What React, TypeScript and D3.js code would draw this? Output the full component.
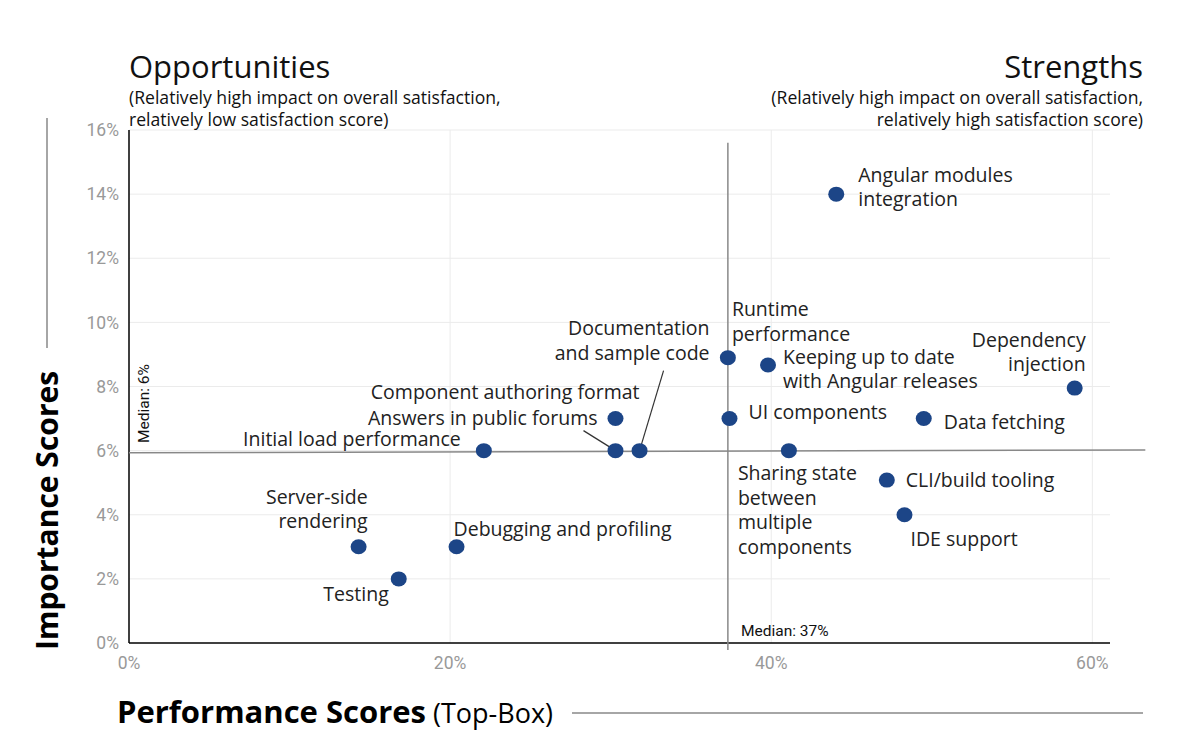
import * as d3 from "d3";
import React from "react";

// topics, with performance (top-box %) and importance (%)
const topics = [
  "Angular modules integration",
  "Runtime performance",
  "Keeping up to date with Angular releases",
  "Dependency injection",
  "Data fetching",
  "UI components",
  "Component authoring format",
  "Answers in public forums",
  "Documentation and sample code",
  "Initial load performance",
  "Sharing state between multiple components",
  "CLI/build tooling",
  "IDE support",
  "Server-side rendering",
  "Debugging and profiling",
  "Testing",
];
const performance = [44.05, 37.3, 39.8, 58.9, 49.5, 37.4, 30.3, 30.3, 31.8, 22.1, 41.1, 47.2, 48.3, 14.3, 20.4, 16.8];
const importance = [14, 8.9, 8.67, 7.95, 7, 7, 7, 6, 6, 6, 6, 5.08, 4, 3, 3, 2];

const xTicks = [0, 20, 40, 60];
const yTicks = [0, 2, 4, 6, 8, 10, 12, 14, 16];
const medianPerformance = 37.3;
const medianImportance = 5.93;

// label placement (offsets from the point, in px)
type Lbl = { lines: string[]; dx: number; dy: number; anchor: string; leader?: [number, number] };
const labels: Lbl[] = [
  { lines: ["Angular modules", "integration"], dx: 22, dy: -19, anchor: "start" },
  { lines: ["Runtime", "performance"], dx: 4, dy: -48, anchor: "start" },
  { lines: ["Keeping up to date", "with Angular releases"], dx: 15, dy: -8, anchor: "start" },
  { lines: ["Dependency", "injection"], dx: 11, dy: -48, anchor: "end" },
  { lines: ["Data fetching"], dx: 20, dy: 4, anchor: "start" },
  { lines: ["UI components"], dx: 19, dy: -6, anchor: "start" },
  { lines: ["Component authoring format"], dx: 24, dy: -26, anchor: "end" },
  { lines: ["Answers in public forums"], dx: -18, dy: -32, anchor: "end", leader: [-32, -20] },
  { lines: ["Documentation", "and sample code"], dx: 70, dy: -122, anchor: "end", leader: [24, -80] },
  { lines: ["Initial load performance"], dx: -23, dy: -11, anchor: "end" },
  { lines: ["Sharing state", "between", "multiple", "components"], dx: -51, dy: 23, anchor: "start" },
  { lines: ["CLI/build tooling"], dx: 19, dy: 0, anchor: "start" },
  { lines: ["IDE support"], dx: 6, dy: 24, anchor: "start" },
  { lines: ["Server-side", "rendering"], dx: 9, dy: -50, anchor: "end" },
  { lines: ["Debugging and profiling"], dx: -3, dy: -18, anchor: "start" },
  { lines: ["Testing"], dx: -10, dy: 15, anchor: "end" },
];

const W = 1200;
const H = 752;
const titleFont = "'Open Sans', 'Noto Sans', sans-serif";
const tickFont = "Roboto, Arial, sans-serif";

export default function App() {
  const x = d3.scaleLinear().domain([0, 61.1]).range([129, 1110]);
  const y = d3.scaleLinear().domain([0, 16]).range([643, 130]);
  const lineH = 24.5;

  return (
    <svg width={W} height={H} style={{ position: "absolute", left: 0, top: 0, background: "#fff" }}>
      {/* grid */}
      {yTicks.slice(1).map((t) => (
        <line key={"gy" + t} x1={x(0)} x2={x.range()[1]} y1={y(t)} y2={y(t)} stroke="#ebebeb" strokeWidth={1} />
      ))}
      {xTicks.slice(1).map((t) => (
        <line key={"gx" + t} x1={x(t)} x2={x(t)} y1={y(16)} y2={y(0)} stroke="#ebebeb" strokeWidth={1} />
      ))}

      {/* axes */}
      <line x1={x(0)} x2={x(0)} y1={y(16)} y2={y(0)} stroke="#000" strokeWidth={1.5} />
      <line x1={x(0)} x2={x.range()[1]} y1={y(0)} y2={y(0)} stroke="#000" strokeWidth={1.5} />

      {yTicks.map((t) => (
        <text key={"ty" + t} x={119} y={y(t)} dy="0.35em" textAnchor="end" fontFamily={tickFont} fontSize={17.5} fill="#999">
          {t}%
        </text>
      ))}
      {xTicks.map((t) => (
        <text key={"tx" + t} x={x(t)} y={663} dy="0.35em" textAnchor="middle" fontFamily={tickFont} fontSize={17.5} fill="#999">
          {t}%
        </text>
      ))}

      {/* medians */}
      <line x1={x(medianPerformance)} x2={x(medianPerformance)} y1={y(15.6)} y2={y(0) + 7} stroke="#888" strokeWidth={1.5} />
      <line x1={x(0)} x2={x(63.3)} y1={y(medianImportance)} y2={y(6.02)} stroke="#888" strokeWidth={1.5} />
      <text x={741} y={636} fontFamily={tickFont} fontSize={15.5} fill="#111">
        Median: 37%
      </text>
      <text transform={`translate(149,${443}) rotate(-90)`} fontFamily={tickFont} fontSize={15.5} fill="#111">
        Median: 6%
      </text>

      {/* leader lines */}
      {labels.map((l, i) =>
        l.leader ? (
          <line
            key={"ld" + i}
            x1={x(performance[i]) + l.leader[0]}
            y1={y(importance[i]) + l.leader[1]}
            x2={x(performance[i])}
            y2={y(importance[i])}
            stroke="#333"
            strokeWidth={1.2}
          />
        ) : null
      )}

      {/* points */}
      {topics.map((t, i) => (
        <ellipse key={t} cx={x(performance[i])} cy={y(importance[i])} rx={8} ry={7.5} fill="#1c4587" />
      ))}

      {/* point labels */}
      {labels.map((l, i) => (
        <text
          key={"lb" + i}
          x={x(performance[i]) + l.dx}
          y={y(importance[i]) + l.dy}
          textAnchor={l.anchor}
          fontFamily={titleFont}
          fontSize={19.5}
          fill="#222"
        >
          {l.lines.map((s, j) => (
            <tspan key={j} x={x(performance[i]) + l.dx} y={y(importance[i]) + l.dy + j * lineH} dy="0.35em">
              {s}
            </tspan>
          ))}
        </text>
      ))}

      {/* quadrant headings */}
      <text x={129} y={78} fontFamily={titleFont} fontSize={31} fill="#111">
        Opportunities
      </text>
      <text x={129} y={104} fontFamily={titleFont} fontSize={17.6} fill="#111">
        (Relatively high impact on overall satisfaction,
      </text>
      <text x={129} y={126} fontFamily={titleFont} fontSize={17.6} fill="#111">
        relatively low satisfaction score)
      </text>
      <text x={1143} y={78} textAnchor="end" fontFamily={titleFont} fontSize={31} fill="#111">
        Strengths
      </text>
      <text x={1143} y={104} textAnchor="end" fontFamily={titleFont} fontSize={17.6} fill="#111">
        (Relatively high impact on overall satisfaction,
      </text>
      <text x={1143} y={126} textAnchor="end" fontFamily={titleFont} fontSize={17.6} fill="#111">
        relatively high satisfaction score)
      </text>

      {/* axis titles */}
      <line x1={47} x2={47} y1={118} y2={348} stroke="#888" strokeWidth={1.5} />
      <text transform="translate(58,650) rotate(-90)" fontFamily={titleFont} fontSize={30} fontWeight={700} fill="#000">
        Importance Scores
      </text>
      <text x={117} y={723} fontFamily={titleFont} fontSize={31} fill="#000">
        <tspan fontWeight={700}>Performance Scores</tspan>
        <tspan fontSize={27}> (Top-Box)</tspan>
      </text>
      <line x1={572} x2={1143} y1={713} y2={713} stroke="#888" strokeWidth={1.5} />
    </svg>
  );
}
